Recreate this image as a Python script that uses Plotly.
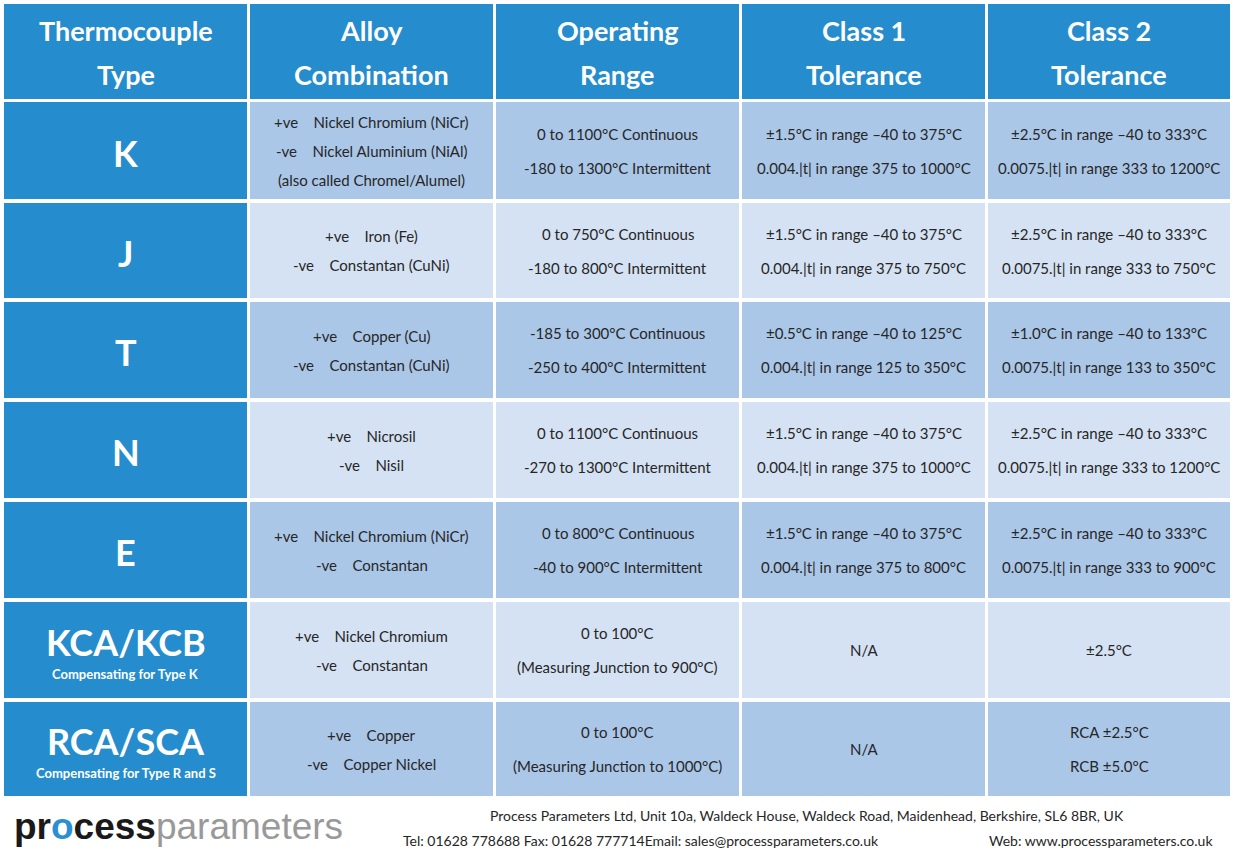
import plotly.graph_objects as go

headers = [["Thermocouple", "Type"], ["Alloy", "Combination"], ["Operating", "Range"], ["Class 1", "Tolerance"], ["Class 2", "Tolerance"]]
types = ["K", "J", "T", "N", "E", "KCA/KCB", "RCA/SCA"]
type_sub = ["", "", "", "", "", "Compensating for Type K", "Compensating for Type R and S"]
sp = "\u00a0\u00a0\u00a0\u00a0"
alloys = [
    ["+ve" + sp + "Nickel Chromium (NiCr)", "-ve" + sp + "Nickel Aluminium (NiAl)", "(also called Chromel/Alumel)"],
    ["+ve" + sp + "Iron (Fe)", "-ve" + sp + "Constantan (CuNi)"],
    ["+ve" + sp + "Copper (Cu)", "-ve" + sp + "Constantan (CuNi)"],
    ["+ve" + sp + "Nicrosil", "-ve" + sp + "Nisil"],
    ["+ve" + sp + "Nickel Chromium (NiCr)", "-ve" + sp + "Constantan"],
    ["+ve" + sp + "Nickel Chromium", "-ve" + sp + "Constantan"],
    ["+ve" + sp + "Copper", "-ve" + sp + "Copper Nickel"],
]
ranges = [
    ["0 to 1100°C Continuous", "-180 to 1300°C Intermittent"],
    ["0 to 750°C Continuous", "-180 to 800°C Intermittent"],
    ["-185 to 300°C Continuous", "-250 to 400°C Intermittent"],
    ["0 to 1100°C Continuous", "-270 to 1300°C Intermittent"],
    ["0 to 800°C Continuous", "-40 to 900°C Intermittent"],
    ["0 to 100°C", "(Measuring Junction to 900°C)"],
    ["0 to 100°C", "(Measuring Junction to 1000°C)"],
]
class1 = [
    ["±1.5°C in range –40 to 375°C", "0.004.|t| in range 375 to 1000°C"],
    ["±1.5°C in range –40 to 375°C", "0.004.|t| in range 375 to 750°C"],
    ["±0.5°C in range –40 to 125°C", "0.004.|t| in range 125 to 350°C"],
    ["±1.5°C in range –40 to 375°C", "0.004.|t| in range 375 to 1000°C"],
    ["±1.5°C in range –40 to 375°C", "0.004.|t| in range 375 to 800°C"],
    ["N/A"],
    ["N/A"],
]
class2 = [
    ["±2.5°C in range –40 to 333°C", "0.0075.|t| in range 333 to 1200°C"],
    ["±2.5°C in range –40 to 333°C", "0.0075.|t| in range 333 to 750°C"],
    ["±1.0°C in range –40 to 133°C", "0.0075.|t| in range 133 to 350°C"],
    ["±2.5°C in range –40 to 333°C", "0.0075.|t| in range 333 to 1200°C"],
    ["±2.5°C in range –40 to 333°C", "0.0075.|t| in range 333 to 900°C"],
    ["±2.5°C"],
    ["RCA ±2.5°C", "RCB ±5.0°C"],
]

col_x = [(4, 247), (250, 493), (496, 739), (742, 985), (988, 1230)]
row_y = [(4, 99), (102, 199), (203, 298), (302, 398), (402, 498), (502, 598), (602, 698), (702, 796)]
BLUE = "#258ccd"
DARK = "#abc7e8"
LIGHT = "#d5e2f3"
FONT = "Lato"
TXT = "#262626"

fig = go.Figure()
fig.add_trace(go.Scatter(x=[0, 1234], y=[0, 858], mode="markers", marker=dict(opacity=0), hoverinfo="skip"))
shapes, anns = [], []

def rect(x0, x1, y0, y1, c):
    shapes.append(dict(type="rect", xref="x", yref="y", x0=x0, x1=x1, y0=y0, y1=y1, fillcolor=c, line=dict(width=0), layer="below"))

def lines(texts, cx, y0, y1, size, spacing, color=TXT, bold=False):
    n = len(texts)
    mid = (y0 + y1) / 2
    for i, t in enumerate(texts):
        yy = mid + (i - (n - 1) / 2) * spacing
        anns.append(dict(x=cx, y=yy, xref="x", yref="y", text=("<b>" + t + "</b>") if bold else t, showarrow=False,
                         font=dict(family=FONT, size=size, color=color), xanchor="center", yanchor="middle"))

for j, (x0, x1) in enumerate(col_x):
    rect(x0, x1, *row_y[0], BLUE)
    lines(headers[j], (x0 + x1) / 2, row_y[0][0], row_y[0][1] + 2, 27, 44, color="white", bold=True)

for i in range(len(types)):
    y0, y1 = row_y[i + 1]
    bg = DARK if i % 2 == 0 else LIGHT
    x0, x1 = col_x[0]
    rect(x0, x1, y0, y1, BLUE)
    cx = (x0 + x1) / 2
    if type_sub[i]:
        anns.append(dict(x=cx, y=(y0 + y1) / 2 - 8, xref="x", yref="y", text="<b>" + types[i] + "</b>", showarrow=False,
                         font=dict(family=FONT, size=36, color="white"), xanchor="center", yanchor="middle"))
        anns.append(dict(x=cx, y=(y0 + y1) / 2 + 24, xref="x", yref="y", text="<b>" + type_sub[i] + "</b>", showarrow=False,
                         font=dict(family=FONT, size=13, color="white"), xanchor="center", yanchor="middle"))
    else:
        anns.append(dict(x=cx, y=(y0 + y1) / 2 + 2, xref="x", yref="y", text="<b>" + types[i] + "</b>", showarrow=False,
                         font=dict(family=FONT, size=36, color="white"), xanchor="center", yanchor="middle"))
    for j, data in enumerate([alloys, ranges, class1, class2]):
        x0, x1 = col_x[j + 1]
        rect(x0, x1, y0, y1, bg)
        lines(data[i], (x0 + x1) / 2, y0, y1, 15, 29 if j == 0 else 34)

anns.append(dict(x=12, y=826, xref="x", yref="y", showarrow=False, xanchor="left", yanchor="middle",
                 text="<b>pr<span style='color:#2a8fd3'>o</span>cess</b><span style='color:#999999'>parameters</span>",
                 font=dict(family="Liberation Sans", size=37, color="#1a1a1a")))
anns.append(dict(x=807, y=815, xref="x", yref="y", showarrow=False, xanchor="center", yanchor="middle",
                 text="Process Parameters Ltd, Unit 10a, Waldeck House, Waldeck Road, Maidenhead, Berkshire, SL6 8BR, UK",
                 font=dict(family=FONT, size=14, color=TXT)))
anns.append(dict(x=401, y=840, xref="x", yref="y", showarrow=False, xanchor="left", yanchor="middle",
                 text="Tel: 01628 778688 Fax: 01628 777714Email: sales@processparameters.co.uk",
                 font=dict(family=FONT, size=14, color=TXT)))
anns.append(dict(x=1215, y=840, xref="x", yref="y", showarrow=False, xanchor="right", yanchor="middle",
                 text="Web: www.processparameters.co.uk", font=dict(family=FONT, size=14, color=TXT)))

fig.update_layout(width=1234, height=858, margin=dict(l=0, r=0, t=0, b=0), plot_bgcolor="white", paper_bgcolor="white",
                  shapes=shapes, annotations=anns, showlegend=False,
                  xaxis=dict(range=[0, 1234], visible=False, fixedrange=True),
                  yaxis=dict(range=[858, 0], visible=False, fixedrange=True))
fig.write_html("out.html", config={"displayModeBar": False},
               post_script="document.body.style.margin='0';document.body.style.overflow='hidden';")
